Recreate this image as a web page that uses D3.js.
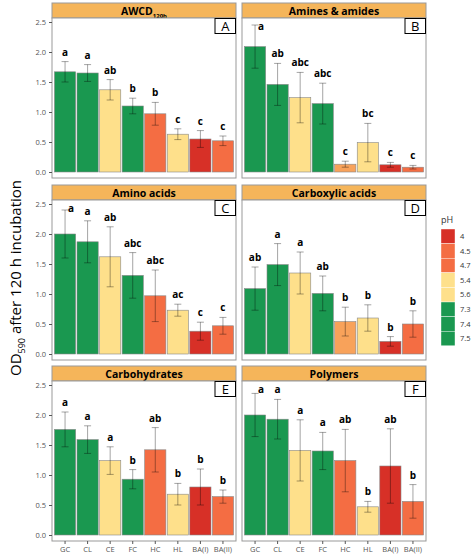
<!DOCTYPE html>
<html><head><meta charset="utf-8">
<script src="https://cdn.jsdelivr.net/npm/d3@7"></script>
<style>body{margin:0;background:#fff}text{font-family:"Open Sans","DejaVu Sans",sans-serif}</style>
</head><body><div id="chart"></div>
<script>
var samples = ["GC","CL","CE","FC","HC","HL","BA(I)","BA(II)"];
var sampleColor = ["#1a9850","#1a9850","#fee08b","#1a9850","#f46d43","#fee08b","#d73027","#f46d43"];
var titles = ["AWCD","Amines & amides","Amino acids","Carboxylic acids","Carbohydrates","Polymers"];
var tags = ["A","B","C","D","E","F"];
var means = [
  [1.67,1.65,1.37,1.10,0.97,0.63,0.55,0.52],
  [2.09,1.46,1.24,1.14,0.13,0.49,0.12,0.08],
  [2.00,1.87,1.62,1.31,0.97,0.73,0.38,0.47],
  [1.09,1.49,1.35,1.01,0.54,0.60,0.21,0.50],
  [1.76,1.59,1.24,0.93,1.42,0.68,0.80,0.64],
  [2.00,1.93,1.41,1.40,1.24,0.47,1.15,0.56]];
var errs = [
  [0.17,0.14,0.17,0.13,0.19,0.09,0.14,0.08],
  [0.36,0.35,0.42,0.34,0.05,0.32,0.04,0.03],
  [0.40,0.35,0.50,0.38,0.43,0.10,0.15,0.14],
  [0.36,0.35,0.35,0.29,0.24,0.22,0.08,0.22],
  [0.29,0.23,0.23,0.16,0.37,0.18,0.30,0.11],
  [0.36,0.33,0.51,0.31,0.52,0.09,0.62,0.28]];
var letters = [
  ["a","a","ab","b","b","c","c","c"],
  ["a","ab","abc","abc","c","bc","c","c"],
  ["a","a","ab","abc","abc","ac","c","c"],
  ["ab","a","a","ab","b","b","b","b"],
  ["a","a","a","b","ab","b","b","b"],
  ["a","a","a","a","ab","b","ab","b"]];
var yTicks = [0,0.5,1,1.5,2,2.5];
var phLabels = ["4","4.5","4.7","5.4","5.6","7.3","7.4","7.5"];
var phColors = ["#d73027","#f46d43","#f46d43","#fee08b","#fee08b","#1a9850","#1a9850","#1a9850"];

var svg = d3.select("#chart").append("svg").attr("width",474).attr("height",555);

var colX = [52,242], panelW = 184;
var rowTop = [18,200,381], stripH = 15;

titles.forEach(function(t,i){
  var x0 = colX[i%2], top = rowTop[Math.floor(i/2)];
  var y = d3.scaleLinear().domain([0,2.5]).range([top+154,top+4]);
  var x = d3.scaleBand().domain(samples).range([x0+2,x0+panelW-2]).paddingInner(0.06).paddingOuter(0.02);
  var g = svg.append("g");
  g.append("rect").attr("x",x0).attr("y",top-stripH).attr("width",panelW).attr("height",stripH)
    .attr("fill","#f5b55a").attr("stroke","#999").attr("stroke-width",1);
  var st = g.append("text").attr("x",x0+panelW/2).attr("y",top-3.5).attr("text-anchor","middle")
    .attr("font-size",10.5).attr("font-weight","bold").text(t);
  if(i==0) st.append("tspan").attr("font-size",6).attr("dy",3).text("120h");
  g.append("rect").attr("x",x0).attr("y",top).attr("width",panelW).attr("height",160)
    .attr("fill","#fff").attr("stroke","#999");
  if(i%2==0){
    var ax = g.append("g").attr("transform","translate("+x0+",0)")
      .call(d3.axisLeft(y).tickValues(yTicks).tickFormat(d3.format(".1f")).tickSize(3));
    ax.select(".domain").remove();
    ax.selectAll("line").attr("stroke","#555");
    ax.selectAll("text").attr("fill","#555").attr("font-size",7.5);
  }
  if(i>=4){
    var bx = g.append("g").attr("transform","translate(0,"+(top+160)+")")
      .call(d3.axisBottom(x).tickSize(3));
    bx.select(".domain").remove();
    bx.selectAll("line").attr("stroke","#555");
    bx.selectAll("text").attr("fill","#555").attr("font-size",7.5);
  }
  g.selectAll(".bar").data(samples).enter().append("rect")
    .attr("x",function(d){return x(d);}).attr("width",x.bandwidth())
    .attr("y",function(d,j){return y(means[i][j]);})
    .attr("height",function(d,j){return y(0)-y(means[i][j]);})
    .attr("fill",function(d,j){return (d=="HC"&&(i==1||i==3))?"#f8a25a":sampleColor[j];})
    .attr("stroke","#888").attr("stroke-width",0.6);
  samples.forEach(function(d,j){
    var cx = x(d)+x.bandwidth()/2, lo = y(Math.max(0,means[i][j]-errs[i][j])), hi = y(means[i][j]+errs[i][j]);
    var e = g.append("g").attr("stroke","rgba(0,0,0,0.45)").attr("stroke-width",0.8);
    e.append("line").attr("x1",cx).attr("x2",cx).attr("y1",lo).attr("y2",hi);
    e.append("line").attr("x1",cx-3.5).attr("x2",cx+3.5).attr("y1",lo).attr("y2",lo);
    e.append("line").attr("x1",cx-3.5).attr("x2",cx+3.5).attr("y1",hi).attr("y2",hi);
    var ly = Math.max(hi-6, top+12);
    var lx = hi-6 < top+12 ? cx+6 : cx;
    g.append("text").attr("x",lx).attr("y",ly).attr("text-anchor","middle")
      .attr("font-size",10).attr("font-weight","bold").text(letters[i][j]);
  });
  g.append("rect").attr("x",x0+panelW-21).attr("y",top+0.5).attr("width",20.5).attr("height",15)
    .attr("fill","#fff").attr("stroke","#000").attr("stroke-width",1);
  g.append("text").attr("x",x0+panelW-10.75).attr("y",top+13).attr("text-anchor","middle")
    .attr("font-size",13).text(tags[i]);
});

var yt = svg.append("text").attr("transform","translate(21,278) rotate(-90)").attr("text-anchor","middle")
  .attr("font-size",15).text("OD");
yt.append("tspan").attr("font-size",9).attr("dy",4).text("590");
yt.append("tspan").attr("dy",-4).text(" after 120 h incubation");

var lg = svg.append("g");
lg.append("text").attr("x",441).attr("y",223).attr("font-size",9).attr("fill","#333").text("pH");
phLabels.forEach(function(l,k){
  lg.append("rect").attr("x",441).attr("y",229+k*14.6).attr("width",14).attr("height",14.6)
    .attr("fill",phColors[k]).attr("stroke","#fff").attr("stroke-width",0.4);
  lg.append("text").attr("x",460).attr("y",239+k*14.6).attr("font-size",7.5).attr("fill","#333").text(l);
});
</script></body></html>
